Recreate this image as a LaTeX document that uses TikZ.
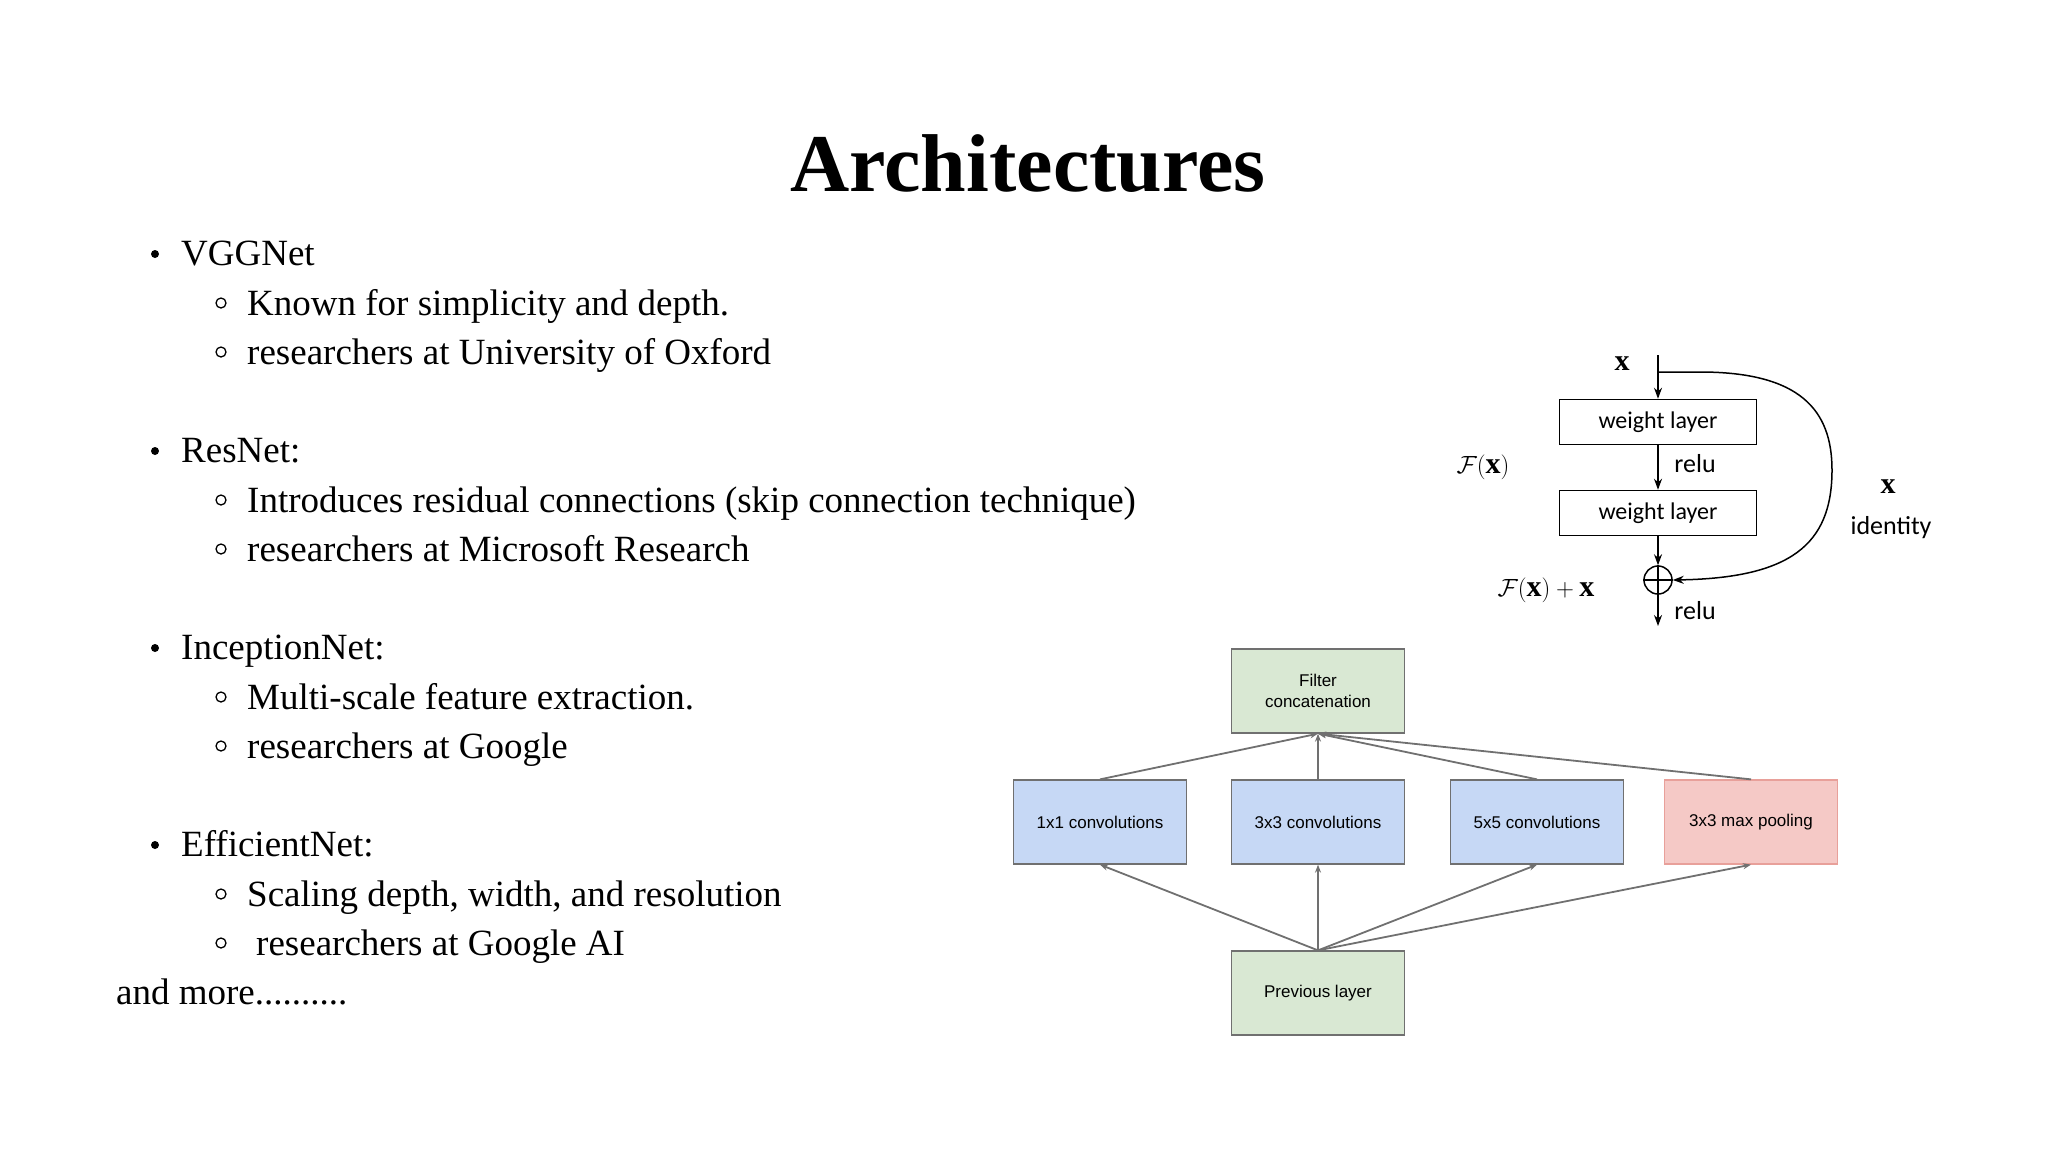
\documentclass[tikz,border=0pt]{standalone}
\usepackage{fontspec}
\usepackage{amsmath}
\setmainfont{Liberation Serif}
\newfontfamily\arialf{Liberation Sans}
\newfontfamily\calib{Carlito}
\usetikzlibrary{arrows.meta}
\definecolor{gfill}{HTML}{D9E8D3}
\definecolor{bfill}{HTML}{C6D8F5}
\definecolor{rfill}{HTML}{F5C9C6}
\definecolor{rline}{HTML}{E8A09A}
\definecolor{gline}{HTML}{707070}
\begin{document}
\begin{tikzpicture}[x=1pt,y=-1pt,
  body/.style={anchor=base west,inner sep=0,font=\fontsize{37}{40}\selectfont},
  dot/.style={circle,fill=black,inner sep=0,minimum size=8pt},
  odot/.style={circle,draw=black,line width=1.3pt,inner sep=0,minimum size=10pt},
  inc/.style={draw=gline,line width=1.3pt,minimum width=173pt,minimum height=84pt,inner sep=0,align=center,font=\arialf\fontsize{17}{21}\selectfont},
  iarr/.style={draw=gline,line width=1.8pt,-{Stealth[length=8pt,width=6pt]}},
  wl/.style={draw,line width=1.5pt,minimum width=197pt,minimum height=45pt,inner sep=0,font=\calib\fontsize{24}{26}\selectfont},
  rarr/.style={line width=1.5pt,-{Stealth[length=11pt,width=8pt]}},
  lbl/.style={inner sep=0,font=\calib\fontsize{26}{28}\selectfont},
  mth/.style={inner sep=0,font=\fontsize{30}{32}\selectfont}]
\useasboundingbox (0,0) rectangle (2048,1152);
\node[inner sep=0,font=\bfseries\fontsize{82}{90}\selectfont] (title) at (1028,164) {Architectures};
% bullets
\foreach \n/\y/\t in {a/265/VGGNet,b/462/ResNet:,c/659/InceptionNet:,d/856/EfficientNet:}{
  \node[dot] (d\n) at (155,\y-11) {};
  \node[body] (t\n) at (181,\y) {\t};
}
\foreach \n/\y/\t in {a1/315/Known for simplicity and depth.,a2/364/researchers at University of Oxford,
  b1/512/Introduces residual connections (skip connection technique),b2/561/researchers at Microsoft Research,
  c1/709/Multi-scale feature extraction.,c2/758/researchers at Google,
  d1/906/{Scaling depth, width, and resolution}}{
  \node[odot] (o\n) at (221,\y-12) {};
  \node[body] (s\n) at (247,\y) {\t};
}
\node[odot] (od2) at (221,943) {};
\node[body] (sd2) at (256,955) {researchers at Google AI};
\node[body] (more) at (116,1004) {and more..........};
% inception
\node[inc,fill=gfill] (fc) at (1318,691) {Filter\\concatenation};
\node[inc,fill=bfill] (c1) at (1100,822) {1x1 convolutions};
\node[inc,fill=bfill] (c3) at (1318,822) {3x3 convolutions};
\node[inc,fill=bfill] (c5) at (1537,822) {5x5 convolutions};
\node[inc,fill=rfill,draw=rline] (mp) at (1751,822) {3x3 max pooling};
\node[inc,fill=gfill] (pl) at (1318,993) {Previous layer};
\foreach \b in {c1,c3,c5,mp}{
  \draw[iarr] (\b.north) -- (fc.south);
  \draw[iarr] (pl.north) -- (\b.south);
}
% resnet
\node[wl] (w1) at (1658,422) {weight layer};
\node[wl] (w2) at (1658,513) {weight layer};
\node[circle,draw,line width=1.5pt,minimum size=28pt,inner sep=0] (sum) at (1658,580) {};
\draw[line width=1.3pt] (sum.north) -- (sum.south) (sum.west) -- (sum.east);
\coordinate (xin) at (1658,355);
\coordinate (xout) at (1658,626);
\draw[rarr] (xin) -- (w1.north);
\draw[rarr] (w1.south) -- (w2.north);
\draw[rarr] (w2.south) -- (sum.north);
\draw[rarr] (sum.south) -- (xout);
\draw[rarr] (1658,372) -- (1700,372) .. controls (1800,372) and (1832,410) .. (1832,470) .. controls (1832,545) and (1790,578) .. (sum.east);
\node[mth] (xl) at (1622,364) {$\mathbf{x}$};
\node[lbl] (r1) at (1695,464) {relu};
\node[lbl] (r2) at (1695,611) {relu};
\node[mth] (fx) at (1483,467) {$\mathcal{F}(\mathbf{x})$};
\node[mth] (fxx) at (1546,590) {$\mathcal{F}(\mathbf{x})+\mathbf{x}$};
\node[mth] (xr) at (1888,487) {$\mathbf{x}$};
\node[lbl] (id) at (1891,528) {identity};
\end{tikzpicture}
\end{document}
